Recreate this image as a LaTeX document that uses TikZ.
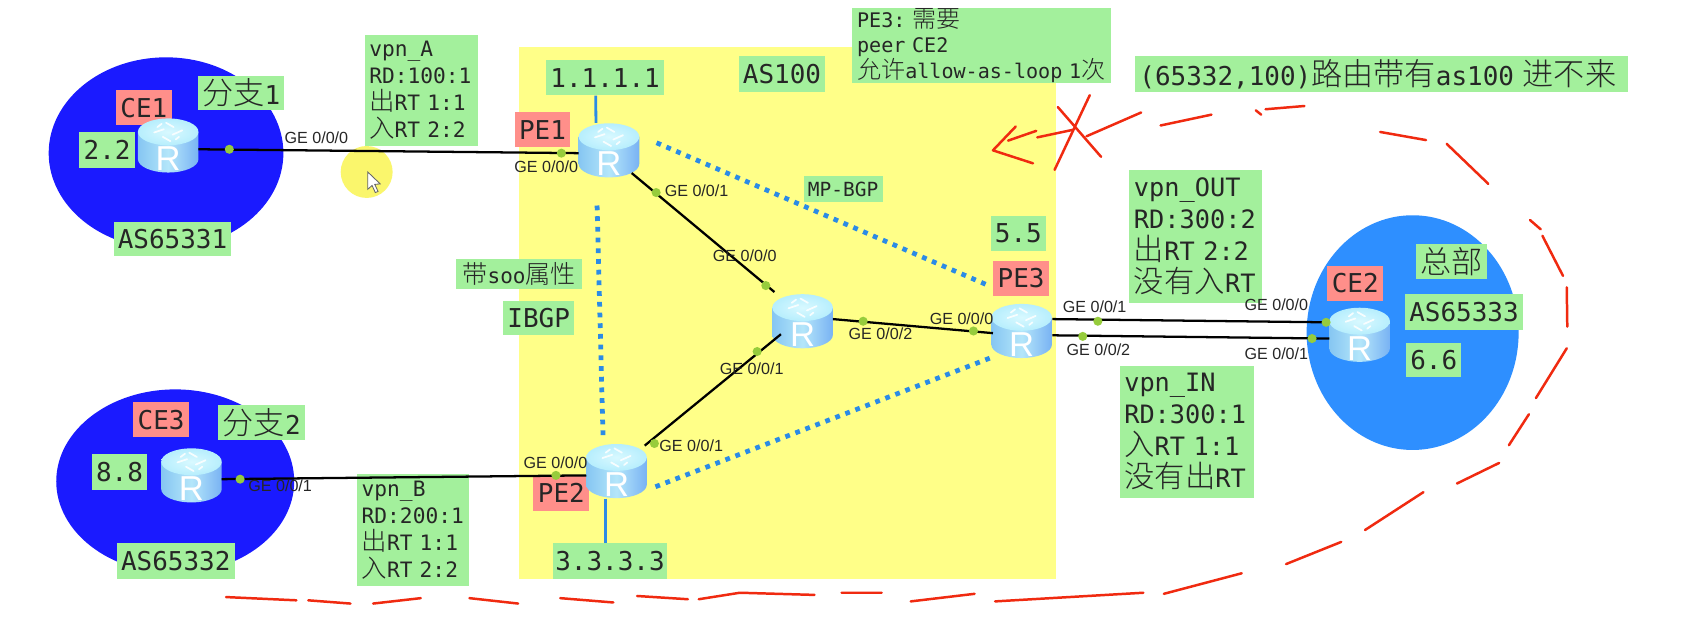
\documentclass[tikz,border=0pt]{standalone}
\usepackage{fontspec}
\setmainfont{Liberation Sans}
\newfontfamily\mono{DejaVu Sans Mono}
\newfontfamily\cjk[Scale=1.2]{Noto Sans CJK SC Light}
\newcommand\zh[1]{{\cjk #1}}
\definecolor{lblgreen}{HTML}{A3F09C}
\definecolor{lblred}{HTML}{FF8F8A}
\definecolor{asyellow}{HTML}{FFFF88}
\definecolor{asblue}{HTML}{1A1AFF}
\definecolor{hqblue}{HTML}{2E8FFF}
\definecolor{bgpblue}{HTML}{2B8BE6}
\definecolor{portgreen}{HTML}{96CC3C}
\definecolor{inkred}{HTML}{F02A10}
\definecolor{rtop}{HTML}{BFF5FF}
\definecolor{rside}{HTML}{86C6F2}
\definecolor{rmid}{HTML}{B4E6FA}
\definecolor{spot}{HTML}{FAF66C}
\newcommand\bx[7][]{%
  \pgfmathsetmacro\bcx{(#3+#5)/2}\pgfmathsetmacro\bcy{(#4+#6)/2}%
  \pgfmathsetmacro\bw{(#5-#3)*0.5}\pgfmathsetmacro\bh{(#6-#4)*0.5}%
  \node[lblbox,minimum width=\bw pt,minimum height=\bh pt,#1] (#2) at (\bcx,\bcy) {#7};}
\newcommand\router[3]{%
  \begin{scope}[shift={(#2,#3)}]
    \shade[left color=rside,right color=rside!90!blue,middle color=rmid]
      (-14pt,6.3pt) -- (-14pt,-6.3pt) arc[start angle=180,end angle=360,x radius=14pt,y radius=6.2pt]
      -- (14pt,6.3pt) -- cycle;
    \shade[inner color=white!40!rtop,outer color=rtop!85!rside] (0pt,6.3pt) ellipse[x radius=14pt,y radius=6.2pt];
    \draw[white,opacity=.85,line width=.8pt,line cap=round]
      (-6.5pt,6pt) -- (-2pt,7.5pt) (-1pt,10.5pt) -- (2.5pt,8.5pt) (6.5pt,7pt) -- (2pt,5pt)
      (1pt,2pt) -- (-2.5pt,4pt) (-5pt,8.5pt) -- (-3pt,10pt) (5pt,4pt) -- (3.5pt,2.8pt);
  \end{scope}
  \node[routerbox] (#1) at (#2,#3) {R};}
\tikzset{
  lblbox/.style={fill=lblgreen,inner sep=0pt,text=black!85,font=\mono\fontsize{12}{14}\selectfont,align=center},
  redbox/.style={fill=lblred},
  ml/.style={align=left,text width=\bw pt-4.4pt},
  sm/.style={font=\mono\fontsize{9.8}{12.4}\selectfont},
  bg/.style={font=\mono\fontsize{11.7}{14.8}\selectfont},
  note/.style={font=\mono\fontsize{9.28}{11.9}\selectfont},
  routerbox/.style={minimum width=28pt,minimum height=25pt,inner sep=0pt,text=white,
    font=\fontsize{16}{16}\selectfont,text height=23.5pt,text depth=0pt},
  link/.style={draw=black,line width=1.05pt},
  bgplink/.style={draw=bgpblue,line width=2.2pt,dash pattern=on 2.2pt off 2.75pt},
  stem/.style={draw=bgpblue,line width=1.3pt},
  portdot/.style={circle,fill=portgreen,minimum size=4.2pt,inner sep=0pt},
  ge/.style={inner sep=0pt,text=black!85,font=\fontsize{7.45}{9}\selectfont},
  ink/.style={draw=inkred,line width=1.15pt,line cap=round,line join=round},
}
\begin{document}
\begin{tikzpicture}[x=0.5pt,y=-0.5pt]
\useasboundingbox (0,0) rectangle (1568,584.3);
\fill[white] (0,0) rectangle (1568,584.3);
% regions
\fill[asyellow] (480,43) rectangle (976,535);
\fill[asblue] (153.5,141.5) ellipse[x radius=108.5,y radius=88.5];
\fill[asblue] (162,445) ellipse[x radius=110,y radius=85];
\fill[hqblue] (1306,307.5) ellipse[x radius=98,y radius=108.5];
\fill[spot] (339,159) circle[radius=24];
\draw[black!60,fill=white,line width=.4pt] (340,159) -- (340,175) -- (344,171.5) -- (347,178) -- (349.5,177) -- (346.5,170.5) -- (351.5,170) -- cycle;
% labels
\bx[]{fz1}{183}{70}{263}{102}{\zh{分支}1}
\bx[redbox]{lce1}{107}{83}{159}{116}{CE1}
\bx[]{ip2}{73}{122}{125}{155}{2.2}
\bx[]{as1}{105}{205}{214}{237}{AS65331}
\bx[sm,ml]{vpna}{337}{32}{442}{135}{vpn\_A\\RD:100:1\\\zh{出}RT 1:1\\\zh{入}RT 2:2}
\bx[]{ip1}{505}{55.5}{614}{88}{1.1.1.1}
\bx[redbox]{lpe1}{476}{103.7}{527}{136}{PE1}
\bx[]{as100}{683}{52}{763}{85}{AS100}
\bx[note,ml]{noteb}{788}{7}{1027}{77}{PE3:\ \zh{需要}\\peer CE2\\\zh{允许}allow-as-loop 1\zh{次}}
\bx[ml]{title}{1049}{52}{1505}{85}{(65332,100)\zh{路由带有}as100 \zh{进不来}}
\bx[font=\mono\fontsize{9}{11}\selectfont]{mpbgp}{743}{163}{816}{187}{MP-BGP}
\bx[font=\mono\fontsize{9.7}{12}\selectfont]{soo}{422}{239.6}{538}{267}{\zh{带}soo\zh{属性}}
\bx[]{ibgp}{465}{278}{531}{310}{IBGP}
\bx[]{ip5}{916}{200}{967}{232}{5.5}
\bx[redbox]{lpe3}{918}{241}{970}{274}{PE3}
\bx[bg,ml]{vpnout}{1044}{157}{1167}{280}{vpn\_OUT\\RD:300:2\\\zh{出}RT 2:2\\\zh{没有入}RT}
\bx[bg,ml]{vpnin}{1035}{338}{1159}{460}{vpn\_IN\\RD:300:1\\\zh{入}RT 1:1\\\zh{没有出}RT}
\bx[redbox]{lce2}{1227}{246}{1279}{278}{CE2}
\bx[]{hq}{1309}{225.6}{1375}{258}{\zh{总部}}
\bx[]{as3}{1299}{272}{1408}{305}{AS65333}
\bx[]{ip6}{1300}{317}{1351}{349}{6.6}
\bx[redbox]{lce3}{123}{372}{175}{404}{CE3}
\bx[]{fz2}{202}{374}{282}{407}{\zh{分支}2}
\bx[]{ip8}{85}{420}{136}{453}{8.8}
\bx[]{as2}{108}{502}{217}{535}{AS65332}
\bx[sm,ml,font=\mono\fontsize{9.8}{12.5}\selectfont]{vpnb}{330}{438}{434}{542}{vpn\_B\\RD:200:1\\\zh{出}RT 1:1\\\zh{入}RT 2:2}
\bx[redbox]{lpe2}{493}{440}{545}{472}{PE2}
\bx[]{ip3}{511}{502}{617}{535}{3.3.3.3}
% routers
\router{ce1}{155.5}{134.5}
\router{pe1}{563}{139}
\router{ce3}{177}{439.5}
\router{pe2}{570}{435.5}
\router{mid}{742}{297}
\router{pe3}{944.5}{306}
\router{ce2}{1257}{309.5}
% links
\draw[link] ([xshift=14pt,yshift=-1.75pt]ce1.center) -- ([xshift=-14pt,yshift=-1.3pt]pe1.center);
\draw[link] ([xshift=14pt,yshift=-1.75pt]ce3.center) -- ([xshift=-14pt,yshift=-2pt]pe2.center);
\draw[link] ([xshift=10.5pt,yshift=-10.5pt]pe1.center) -- ([xshift=-13pt,yshift=13.5pt]mid.center);
\draw[link] ([xshift=-10pt,yshift=-6pt]mid.center) -- ([xshift=13pt,yshift=11.75pt]pe2.center);
\draw[link] ([xshift=14pt,yshift=1pt]mid.center) -- ([xshift=-13.25pt,yshift=-1pt]pe3.center);
\draw[link] ([xshift=14.25pt,yshift=5.5pt]pe3.center) -- ([xshift=-14pt,yshift=5.75pt]ce2.center);
\draw[link] ([xshift=14.25pt,yshift=-2pt]pe3.center) -- ([xshift=-14pt,yshift=-1.75pt]ce2.center);
\draw[stem] ([xshift=-6pt]pe1.north) -- ([xshift=-4.4pt]ip1.south);
\draw[stem] ([xshift=-5pt]pe2.south) -- ([xshift=-2pt]ip3.north);
\draw[bgplink] ([xshift=22pt,yshift=3.5pt]pe1.center) -- ([xshift=-15.25pt,yshift=21pt]pe3.center);
\draw[bgplink] ([xshift=-5.5pt,yshift=-25.5pt]pe1.center) -- ([xshift=-6.2pt,yshift=14.25pt]pe2.center);
\draw[bgplink] ([xshift=18pt,yshift=-7.25pt]pe2.center) -- ([xshift=-13.25pt,yshift=-12pt]pe3.center);
% port dots
\foreach \i/\p in {1/{212,138},2/{519,141.6},3/{606.6,178},4/{708,264},5/{700,325},6/{605,410},7/{514,439.5},8/{222,443},9/{798,297},10/{900,306},11/{1015,297},12/{1001,311},13/{1226,298},14/{1213,313}}
  \node[portdot] (dot\i) at (\p) {};
% port labels
\node[ge] (g1) at (292.5,127.5) {GE 0/0/0};
\node[ge] (g2) at (505,154.6) {GE 0/0/0};
\node[ge] (g3) at (644,176) {GE 0/0/1};
\node[ge] (g4) at (688.5,236) {GE 0/0/0};
\node[ge] (g5) at (695,341) {GE 0/0/1};
\node[ge] (g6) at (639,412) {GE 0/0/1};
\node[ge] (g7) at (513.5,428) {GE 0/0/0};
\node[ge] (g8) at (259,449) {GE 0/0/1};
\node[ge] (g9) at (814,309) {GE 0/0/2};
\node[ge] (g10) at (889,295) {GE 0/0/0};
\node[ge] (g11) at (1012,284) {GE 0/0/1};
\node[ge] (g12) at (1015.5,323) {GE 0/0/2};
\node[ge] (g13) at (1180,282) {GE 0/0/0};
\node[ge] (g14) at (1180,327) {GE 0/0/1};
% hand-drawn red route
\draw[ink] (939,117) -- (918,139) -- (955,151);
\draw[ink] (932,130) -- (958,121) (959,127) -- (992,120);
\draw[ink] (1007.5,88) -- (975,157) (978,99) -- (1018,145);
\draw[ink] (1004.5,126) -- (1055,104) (1073,116) -- (1120,106) (1161,102) -- (1166,106) (1170,101) -- (1206,98);
\draw[ink] (1276,122) -- (1318.4,129.5) (1337.5,133) -- (1376,170) (1414.5,203.4) -- (1424.4,212) (1426,218) -- (1445,255) (1448.5,265.7) -- (1449,302) (1448.5,322) -- (1420,368) (1413.5,383) -- (1395,411.6) (1386,428) -- (1347,447) (1316,455) -- (1262,490) (1240,501) -- (1189,521.5) (1148,530) -- (1076,549) (1057,548) -- (920,556) (901,549) -- (842,556) (815,548) -- (778,548) (753,550) -- (684,548) -- (646,554) (636,554) -- (589,551) (567,557) -- (518,553) (479,558) -- (434,553) (389,553) -- (345,558) (324,558) -- (285,555) (274,555) -- (209,552);
\end{tikzpicture}
\end{document}
